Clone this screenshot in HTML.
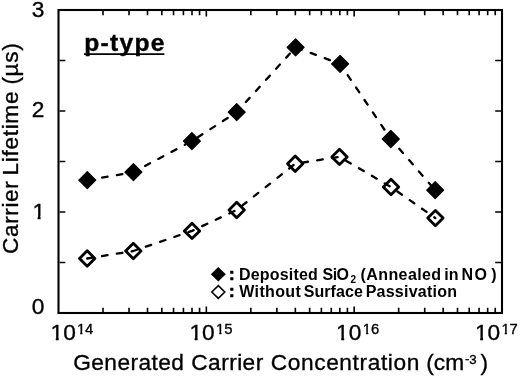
<!DOCTYPE html>
<html><head><meta charset="utf-8"><style>
html,body{margin:0;padding:0;background:#fff;}
svg{display:block;filter:blur(0.3px);font-family:"Liberation Sans",Arial,sans-serif;}
.t text{stroke:#000;stroke-width:0.35px;}
.t2 text{stroke:#000;stroke-width:0px;}
</style></head><body>
<svg width="520" height="377" viewBox="0 0 520 377">
<defs><clipPath id="c1" clipPathUnits="userSpaceOnUse"><path clip-rule="evenodd" d="M0 0H520V377H0Z M32.91 216.10H37.64V220.50H32.91Z M40.54 216.10H45.10V220.50H40.54Z"/></clipPath><clipPath id="a0" clipPathUnits="userSpaceOnUse"><path clip-rule="evenodd" d="M0 0H520V377H0Z M51.05 337.40H55.78V341.80H51.05Z M58.68 337.40H63.24V341.80H58.68Z"/></clipPath><clipPath id="b0" clipPathUnits="userSpaceOnUse"><path clip-rule="evenodd" d="M0 0H520V377H0Z M76.83 331.39H80.18V335.20H76.83Z M82.38 331.39H85.61V335.20H82.38Z"/></clipPath><clipPath id="a1" clipPathUnits="userSpaceOnUse"><path clip-rule="evenodd" d="M0 0H520V377H0Z M189.95 337.40H194.68V341.80H189.95Z M197.58 337.40H202.14V341.80H197.58Z"/></clipPath><clipPath id="b1" clipPathUnits="userSpaceOnUse"><path clip-rule="evenodd" d="M0 0H520V377H0Z M215.93 331.39H219.28V335.20H215.93Z M221.48 331.39H224.71V335.20H221.48Z"/></clipPath><clipPath id="a2" clipPathUnits="userSpaceOnUse"><path clip-rule="evenodd" d="M0 0H520V377H0Z M336.55 337.40H341.28V341.80H336.55Z M344.18 337.40H348.74V341.80H344.18Z"/></clipPath><clipPath id="b2" clipPathUnits="userSpaceOnUse"><path clip-rule="evenodd" d="M0 0H520V377H0Z M362.73 331.39H366.08V335.20H362.73Z M368.28 331.39H371.51V335.20H368.28Z"/></clipPath><clipPath id="a3" clipPathUnits="userSpaceOnUse"><path clip-rule="evenodd" d="M0 0H520V377H0Z M475.45 337.40H480.18V341.80H475.45Z M483.08 337.40H487.64V341.80H483.08Z"/></clipPath><clipPath id="b3" clipPathUnits="userSpaceOnUse"><path clip-rule="evenodd" d="M0 0H520V377H0Z M501.33 331.39H504.68V335.20H501.33Z M506.88 331.39H510.11V335.20H506.88Z"/></clipPath></defs>
<path d="M103.00 312.00V307.80M103.00 11.00V15.20M129.03 312.00V307.80M129.03 11.00V15.20M147.50 312.00V307.80M147.50 11.00V15.20M161.83 312.00V307.80M161.83 11.00V15.20M173.54 312.00V307.80M173.54 11.00V15.20M183.43 312.00V307.80M183.43 11.00V15.20M192.01 312.00V307.80M192.01 11.00V15.20M199.57 312.00V307.80M199.57 11.00V15.20M206.33 312.00V306.50M206.33 11.00V16.50M250.84 312.00V307.80M250.84 11.00V15.20M276.87 312.00V307.80M276.87 11.00V15.20M295.34 312.00V307.80M295.34 11.00V15.20M309.66 312.00V307.80M309.66 11.00V15.20M321.37 312.00V307.80M321.37 11.00V15.20M331.27 312.00V307.80M331.27 11.00V15.20M339.84 312.00V307.80M339.84 11.00V15.20M347.40 312.00V307.80M347.40 11.00V15.20M354.17 312.00V306.50M354.17 11.00V16.50M398.67 312.00V307.80M398.67 11.00V15.20M424.70 312.00V307.80M424.70 11.00V15.20M443.17 312.00V307.80M443.17 11.00V15.20M457.50 312.00V307.80M457.50 11.00V15.20M469.20 312.00V307.80M469.20 11.00V15.20M479.10 312.00V307.80M479.10 11.00V15.20M487.67 312.00V307.80M487.67 11.00V15.20M495.24 312.00V307.80M495.24 11.00V15.20M59.50 262.50H65.30M501.00 262.50H495.20M59.50 212.00H65.30M501.00 212.00H495.20M59.50 161.50H65.30M501.00 161.50H495.20M59.50 111.00H65.30M501.00 111.00H495.20M59.50 60.50H65.30M501.00 60.50H495.20" stroke="#000" stroke-width="1.6" fill="none"/>
<rect x="58.5" y="10.0" width="443.5" height="303.0" fill="none" stroke="#000" stroke-width="2.1"/>
<polyline points="87.3,180.2 133.4,172.1 191.9,141.1 236.7,112.1 295.6,47.3 340.1,63.9 390.8,139.0 435.2,190.2" fill="none" stroke="#000" stroke-width="2.3" stroke-dasharray="5.6 9.4" stroke-linecap="round" stroke-linejoin="round"/>
<polyline points="87.2,258.5 133.3,251.0 192.0,230.9 236.7,210.0 295.2,163.7 339.5,156.9 391.0,187.0 435.4,218.1" fill="none" stroke="#000" stroke-width="2.3" stroke-dasharray="5.6 9.4" stroke-linecap="round" stroke-linejoin="round"/>
<path d="M87.3 171.7L95.8 180.2L87.3 188.7L78.8 180.2Z" fill="#000" stroke="#000" stroke-width="1.2" stroke-linejoin="round"/>
<path d="M133.4 163.6L141.9 172.1L133.4 180.6L124.9 172.1Z" fill="#000" stroke="#000" stroke-width="1.2" stroke-linejoin="round"/>
<path d="M191.9 132.6L200.4 141.1L191.9 149.6L183.4 141.1Z" fill="#000" stroke="#000" stroke-width="1.2" stroke-linejoin="round"/>
<path d="M236.7 103.6L245.2 112.1L236.7 120.6L228.2 112.1Z" fill="#000" stroke="#000" stroke-width="1.2" stroke-linejoin="round"/>
<path d="M295.6 38.8L304.1 47.3L295.6 55.8L287.1 47.3Z" fill="#000" stroke="#000" stroke-width="1.2" stroke-linejoin="round"/>
<path d="M340.1 55.4L348.6 63.9L340.1 72.4L331.6 63.9Z" fill="#000" stroke="#000" stroke-width="1.2" stroke-linejoin="round"/>
<path d="M390.8 130.5L399.3 139.0L390.8 147.5L382.3 139.0Z" fill="#000" stroke="#000" stroke-width="1.2" stroke-linejoin="round"/>
<path d="M435.2 181.7L443.7 190.2L435.2 198.7L426.7 190.2Z" fill="#000" stroke="#000" stroke-width="1.2" stroke-linejoin="round"/>
<path d="M87.2 250.8L94.9 258.5L87.2 266.2L79.5 258.5Z" fill="none" stroke="#000" stroke-width="2.8" stroke-linejoin="round"/>
<path d="M133.3 243.3L141.0 251.0L133.3 258.7L125.6 251.0Z" fill="none" stroke="#000" stroke-width="2.8" stroke-linejoin="round"/>
<path d="M192.0 223.2L199.7 230.9L192.0 238.6L184.3 230.9Z" fill="none" stroke="#000" stroke-width="2.8" stroke-linejoin="round"/>
<path d="M236.7 202.3L244.4 210.0L236.7 217.7L229.0 210.0Z" fill="none" stroke="#000" stroke-width="2.8" stroke-linejoin="round"/>
<path d="M295.2 156.0L302.9 163.7L295.2 171.4L287.5 163.7Z" fill="none" stroke="#000" stroke-width="2.8" stroke-linejoin="round"/>
<path d="M339.5 149.2L347.2 156.9L339.5 164.6L331.8 156.9Z" fill="none" stroke="#000" stroke-width="2.8" stroke-linejoin="round"/>
<path d="M391.0 179.3L398.7 187.0L391.0 194.7L383.3 187.0Z" fill="none" stroke="#000" stroke-width="2.8" stroke-linejoin="round"/>
<path d="M435.4 210.4L443.1 218.1L435.4 225.8L427.7 218.1Z" fill="none" stroke="#000" stroke-width="2.8" stroke-linejoin="round"/>
<g class="t"><text x="44.4" y="17.3" text-anchor="end" font-size="22.7">3</text>
<text x="44.4" y="117.2" text-anchor="end" font-size="22.7">2</text>
<text x="45.0" y="218.9" text-anchor="end" font-size="22.7" clip-path="url(#c1)">1</text>
<text x="44.4" y="314.3" text-anchor="end" font-size="22.7">0</text>
<text x="50.52" y="340.2" font-size="22.7" clip-path="url(#a0)">10</text>
<text x="76.90" y="333.6" font-size="14.8" clip-path="url(#b0)">14</text>
<text x="189.42" y="340.2" font-size="22.7" clip-path="url(#a1)">10</text>
<text x="216.00" y="333.6" font-size="14.8" clip-path="url(#b1)">15</text>
<text x="336.02" y="340.2" font-size="22.7" clip-path="url(#a2)">10</text>
<text x="362.80" y="333.6" font-size="14.8" clip-path="url(#b2)">16</text>
<text x="474.92" y="340.2" font-size="22.7" clip-path="url(#a3)">10</text>
<text x="501.40" y="333.6" font-size="14.8" clip-path="url(#b3)">17</text>
<text x="73.2" y="370.2" font-size="22.7" textLength="110.72">Generated</text>
<text x="191.3" y="370.2" font-size="22.7" textLength="71.93">Carrier</text>
<text x="270.7" y="370.2" font-size="22.7" textLength="148.67">Concentration</text>
<text x="426.3" y="370.2" font-size="22.7" textLength="37.81">(cm</text>
<text x="464.9" y="363.2" font-size="13.3">-</text>
<text x="469.3" y="364.4" font-size="13.3">3</text>
<text x="480.6" y="370.2" font-size="22.7">)</text>
<g transform="translate(17.7,300) rotate(-90)"><text x="46.1" y="0" font-size="22.7" textLength="72.63">Carrier</text><text x="124.5" y="0" font-size="22.7" textLength="84.05">Lifetime</text><text x="215.4" y="0" font-size="22.7" textLength="41.53">(µs)</text></g></g>
<text x="84.25" y="50.8" font-size="24.6" font-weight="bold" textLength="80.28" stroke="#000" stroke-width="0.4">p-type</text>
<line x1="84" y1="54.1" x2="164.4" y2="54.1" stroke="#000" stroke-width="1.7"/>
<path d="M218.3 266.9L225.8 274.2L218.3 281.5L210.8 274.2Z" fill="#000"/>
<path d="M218.3 285.6L224.8 292L218.3 298.4L211.8 292Z" fill="none" stroke="#000" stroke-width="1.6"/>
<g><text x="229.0" y="279.6" font-size="17" font-weight="bold" stroke="#000" stroke-width="0.7">:</text>
<text x="229.0" y="297.2" font-size="17" font-weight="bold" stroke="#000" stroke-width="0.7">:</text>
<text x="239.0" y="279.6" font-size="16" font-weight="bold" textLength="78.84">Deposited</text>
<text x="322.5" y="279.6" font-size="16" font-weight="bold" textLength="26.56">SiO</text>
<text x="350.5" y="283.0" font-size="10" font-weight="bold">2</text>
<text x="239.3" y="297.2" font-size="16" font-weight="bold" textLength="61.43">Without</text>
<text x="303.8" y="297.2" font-size="16" font-weight="bold" textLength="59.0">Surface</text>
<text x="365.7" y="297.2" font-size="16" font-weight="bold" textLength="91.24">Passivation</text></g>
<g class="t2"><text x="360.5" y="279.6" font-size="16" font-weight="bold" textLength="80.64">(Annealed</text>
<text x="444.2" y="279.6" font-size="16" font-weight="bold" textLength="14.22">in</text>
<text x="461.5" y="279.6" font-size="16" font-weight="bold" textLength="25.5">NO</text>
<text x="491.3" y="279.6" font-size="16" font-weight="bold">)</text></g>
</svg>
</body></html>
